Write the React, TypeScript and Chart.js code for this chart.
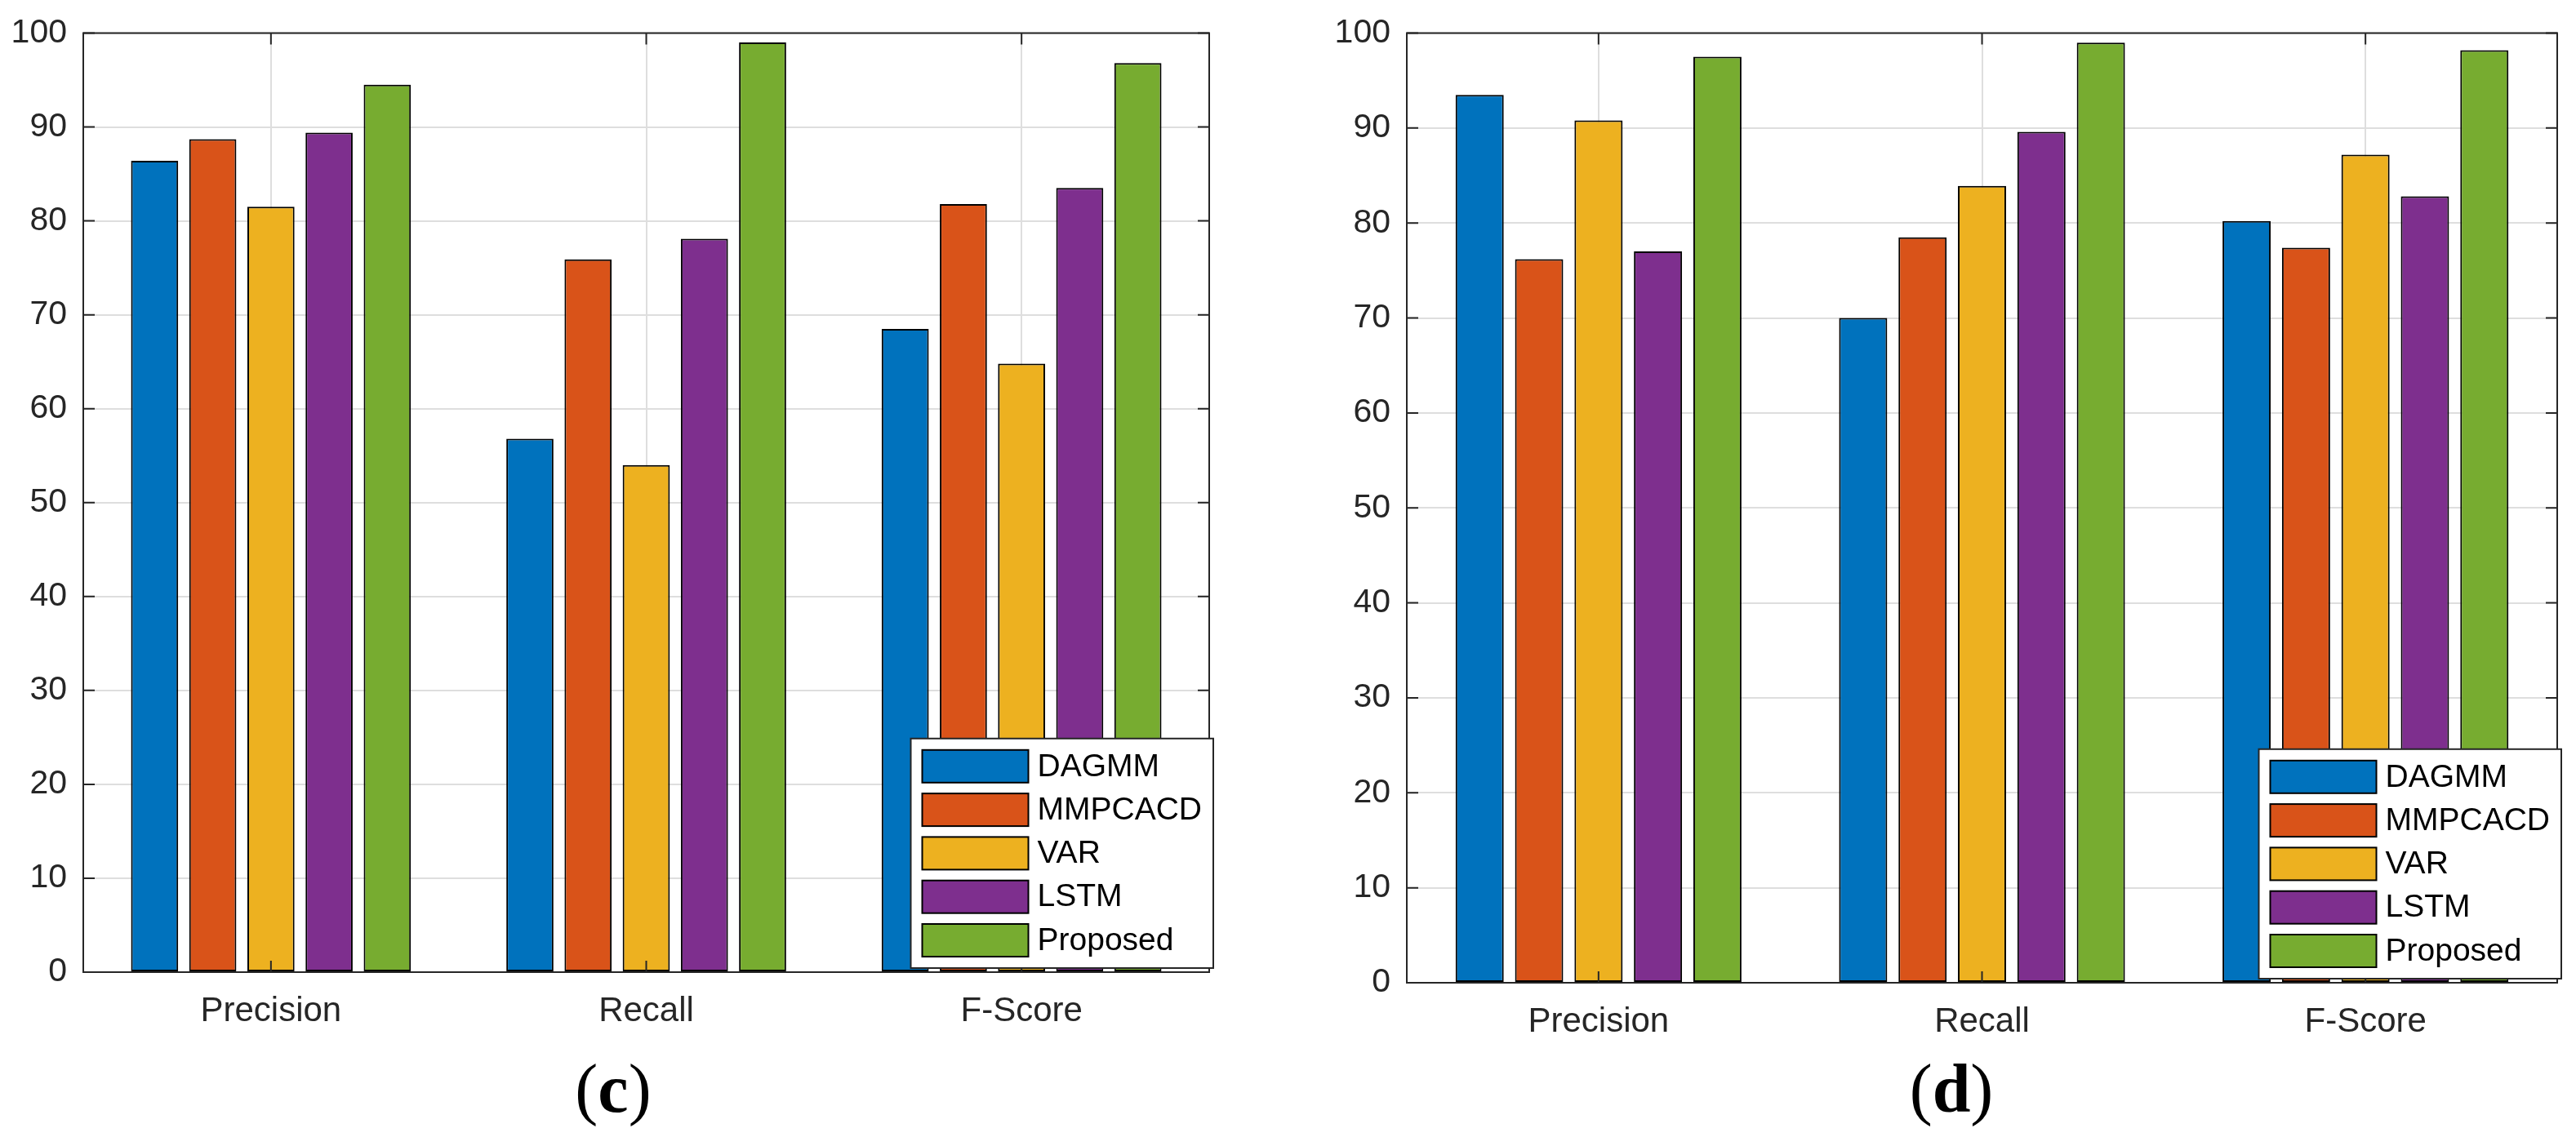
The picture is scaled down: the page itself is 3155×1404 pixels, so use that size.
import { useEffect, useRef } from 'react'
import { Chart, registerables } from 'chart.js'
import type { Plugin } from 'chart.js'
Chart.register(...registerables)

const CATEGORIES = ['Precision', 'Recall', 'F-Score']
const METHODS = ['DAGMM', 'MMPCACD', 'VAR', 'LSTM', 'Proposed']
const COLORS = ['#0072BD', '#D95319', '#EDB120', '#7E2F8E', '#77AC30']

// panel (c)
const DAGMM_C    = [86.4, 56.8, 68.5]
const MMPCACD_C  = [88.7, 75.9, 81.8]
const VAR_C      = [81.5, 54.0, 64.8]
const LSTM_C     = [89.4, 78.1, 83.5]
const PROPOSED_C = [94.5, 99.0, 96.8]

// panel (d)
const DAGMM_D    = [93.5, 70.0, 80.2]
const MMPCACD_D  = [76.2, 78.5, 77.4]
const VAR_D      = [90.8, 83.9, 87.2]
const LSTM_D     = [77.0, 89.6, 82.8]
const PROPOSED_D = [97.5, 99.0, 98.2]

const Y_MIN = 0
const Y_MAX = 100
const Y_STEP = 10

const FONT = '"Liberation Sans", Arial, Helvetica, sans-serif'
const AXIS = '#262626'
const GRID = '#dedede'

// MATLAB-style box with inward ticks, plus the legend in the lower right corner
const frame: Plugin<'bar'> = {
  id: 'frame',
  afterDatasetsDraw(chart) {
    const { ctx, chartArea: a, scales } = chart
    const xs = scales.x, ys = scales.y
    const tl = 14
    ctx.save()
    ctx.strokeStyle = AXIS
    ctx.lineWidth = 2
    ctx.beginPath()
    ys.ticks.forEach(t => {
      const py = ys.getPixelForValue(t.value)
      ctx.moveTo(a.left, py); ctx.lineTo(a.left + tl, py)
      ctx.moveTo(a.right, py); ctx.lineTo(a.right - tl, py)
    })
    CATEGORIES.forEach((_, i) => {
      const px = xs.getPixelForValue(i)
      ctx.moveTo(px, a.bottom); ctx.lineTo(px, a.bottom - tl)
      ctx.moveTo(px, a.top); ctx.lineTo(px, a.top + tl)
    })
    ctx.stroke()
    ctx.strokeRect(a.left, a.top, a.right - a.left, a.bottom - a.top)
    ctx.restore()
  },
  afterDraw(chart) {
    const { ctx, chartArea: a } = chart
    const sets = chart.data.datasets
    ctx.save()
    ctx.font = `39px ${FONT}`
    const maxW = Math.max(...sets.map(d => ctx.measureText(String(d.label)).width))
    const rowH = 53.3, sw = 130, sh = 40, pad = 14
    const w = 155 + maxW + 14
    const h = pad * 2 + rowH * (sets.length - 1) + sh
    const x0 = a.right + 5 - w
    const y0 = a.bottom - 5 - h
    ctx.fillStyle = '#fff'
    ctx.fillRect(x0, y0, w, h)
    ctx.strokeStyle = AXIS
    ctx.lineWidth = 2
    ctx.strokeRect(x0, y0, w, h)
    sets.forEach((d, i) => {
      const sy = y0 + pad + i * rowH
      ctx.fillStyle = String(d.backgroundColor)
      ctx.fillRect(x0 + 14, sy, sw, sh)
      ctx.strokeStyle = '#000'
      ctx.strokeRect(x0 + 14, sy, sw, sh)
      ctx.fillStyle = '#000'
      ctx.textBaseline = 'middle'
      ctx.textAlign = 'left'
      ctx.fillText(String(d.label), x0 + 155, sy + sh / 2 + 1)
    })
    ctx.restore()
  },
}

interface PanelProps {
  series: number[][]
  left: number
  width: number
  height: number
  padTop: number
  padRight: number
  yWidth: number
  xHeight: number
}

function Panel({ series, left, width, height, padTop, padRight, yWidth, xHeight }: PanelProps) {
  const ref = useRef<HTMLCanvasElement>(null)

  useEffect(() => {
    if (!ref.current) return
    const chart = new Chart(ref.current, {
      type: 'bar',
      data: {
        labels: CATEGORIES,
        datasets: series.map((vals, i) => ({
          label: METHODS[i],
          data: vals,
          backgroundColor: COLORS[i],
          borderColor: '#000',
          borderWidth: 2,
          borderSkipped: false,
          categoryPercentage: 0.775,
          barPercentage: 0.81,
        })),
      },
      options: {
        responsive: false,
        animation: false,
        devicePixelRatio: 1,
        layout: { padding: { top: padTop, right: padRight, left: 0, bottom: 0 } },
        plugins: { legend: { display: false }, tooltip: { enabled: false } },
        scales: {
          x: {
            grid: { color: GRID, lineWidth: 2, offset: false, drawTicks: false },
            border: { display: false },
            ticks: { color: AXIS, padding: 23, font: { family: FONT, size: 42, lineHeight: 1.2 } },
            afterFit: s => { s.height = xHeight },
          },
          y: {
            min: Y_MIN, max: Y_MAX,
            grid: { color: GRID, lineWidth: 2, drawTicks: false },
            border: { display: false },
            ticks: { stepSize: Y_STEP, color: AXIS, padding: 20, font: { family: FONT, size: 41, lineHeight: 1 } },
            afterFit: s => { s.width = yWidth },
          },
        },
      },
      plugins: [frame],
    })
    return () => chart.destroy()
  }, [series])

  return <canvas ref={ref} width={width} height={height} style={{ position: 'absolute', left, top: 0 }} />
}

const serif = { position: 'absolute' as const, top: 1292, width: 200, textAlign: 'center' as const, fontFamily: '"Liberation Serif", "Times New Roman", serif', fontSize: 84, lineHeight: 1, color: '#000' }

const SERIES_C = [DAGMM_C, MMPCACD_C, VAR_C, LSTM_C, PROPOSED_C]
const SERIES_D = [DAGMM_D, MMPCACD_D, VAR_D, LSTM_D, PROPOSED_D]

export default function App() {
  return (
    <div style={{ position: 'fixed', left: 0, top: 0, width: 3155, height: 1404, background: '#fff', overflow: 'hidden' }}>
      <Panel series={SERIES_C} left={0} width={1560} height={1290} padTop={34} padRight={79} yWidth={102} xHeight={99} />
      <Panel series={SERIES_D} left={1580} width={1575} height={1300} padTop={23} padRight={23} yWidth={143} xHeight={96} />
      <div style={{ ...serif, left: 751 - 100 }}>(<b>c</b>)</div>
      <div style={{ ...serif, left: 2390 - 100 }}>(<b>d</b>)</div>
    </div>
  )
}
